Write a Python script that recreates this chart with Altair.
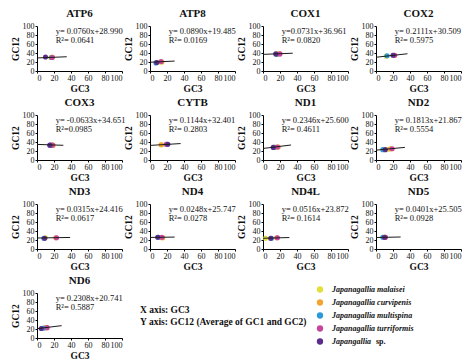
import altair as alt
import pandas as pd

genes = ["ATP6", "ATP8", "COX1", "COX2", "COX3", "CYTB", "ND1", "ND2",
         "ND3", "ND4", "ND4L", "ND5", "ND6"]
slopes = [0.0760, 0.0890, 0.0731, 0.2111, -0.0633, 0.1144, 0.2346, 0.1813,
          0.0315, 0.0248, 0.0516, 0.0401, 0.2308]
intercepts = [28.990, 19.485, 36.961, 30.509, 34.651, 32.401, 25.600, 21.867,
              24.416, 25.747, 23.872, 25.505, 20.741]
eq_labels = ["y= 0.0760x+28.990", "y= 0.0890x+19.485", "y=0.0731x+36.961",
             "y= 0.2111x+30.509", "y= -0.0633x+34.651", "y= 0.1144x+32.401",
             "y= 0.2346x+25.600", "y= 0.1813x+21.867", "y= 0.0315x+24.416",
             "y= 0.0248x+25.747", "y= 0.0516x+23.872", "y= 0.0401x+25.505",
             "y= 0.2308x+20.741"]
r2_labels = ["R²= 0.0641", "R²= 0.0169", "R²= 0.0820", "R²= 0.5975",
             "R²=0.0985", "R²= 0.2803", "R²= 0.4611", "R²= 0.5554",
             "R²= 0.0617", "R²= 0.0278", "R²= 0.1614", "R²= 0.0928",
             "R²= 0.5887"]
line_end = [35, 29, 35, 37, 31, 36, 33, 34, 39, 29, 31, 29, 29]

species = ["Japanagallia malaisei", "Japanagallia curvipenis",
           "Japanagallia multispina", "Japanagallia turriformis",
           "Japangallia sp."]
legend_names = ["Japanagallia malaisei", "Japanagallia curvipenis",
                "Japanagallia multispina", "Japanagallia turriformis",
                "Japangallia"]
colors = ["#e3df3a", "#f2a531", "#2b9ad6", "#c8469a", "#5b2d8a"]

# GC3 / GC12 per gene, species order as above
gc3_values = [
    [16, 18, 17, 18, 10],
    [12, 14, 7, 13, 8],
    [17, 19, 16, 20, 15],
    [12, 21, 13, 22, 20],
    [17, 19, 16, 18, 15],
    [14, 13, 20, 19, 21],
    [15, 18, 13, 17, 12],
    [15, 17, 8, 19, 11],
    [10, 22, 8, 23, 9],
    [14, 15, 10, 14, 9],
    [3, 16, 10, 17, 9],
    [11, 11, 8, 11, 10],
    [10, 11, 8, 12, 5],
]
gc12_values = [
    [30, 31, 30, 30, 31],
    [20, 20, 18, 21, 19],
    [38, 38, 37, 38, 38],
    [33, 35, 34, 35, 35],
    [33, 33, 33, 33, 33],
    [34, 34, 35, 35, 35],
    [29, 29, 28, 29, 28],
    [24, 25, 23, 25, 23],
    [25, 25, 24, 25, 24],
    [25, 25, 26, 26, 26],
    [24, 25, 24, 25, 24],
    [26, 26, 26, 26, 26],
    [23, 23, 22, 23, 21],
]
note_lines = ["X axis: GC3", "Y axis: GC12 (Average of GC1 and GC2)"]

SERIF = "Liberation Serif"
W, H = 85, 45
ticks = [0, 20, 40, 60, 80, 100]

xscale = alt.Scale(domain=[0, 100], nice=False)
yscale = alt.Scale(domain=[0, 100], nice=False)
xaxis = alt.Axis(values=ticks, title="GC3", grid=False, tickSize=2,
                 labelPadding=1, titlePadding=1, labelOverlap=False)
yaxis = alt.Axis(values=ticks, title="GC12", grid=False, tickSize=2,
                 labelPadding=1, titlePadding=2, labelOverlap=False)


def panel(i):
    pts = pd.DataFrame({"species": species, "GC3": gc3_values[i],
                        "GC12": gc12_values[i], "order": list(range(5))})
    p = alt.Chart(pts).mark_circle(size=26, opacity=1).encode(
        x=alt.X("GC3:Q", scale=xscale, axis=xaxis, title="GC3"),
        y=alt.Y("GC12:Q", scale=yscale, axis=yaxis, title="GC12"),
        color=alt.Color("species:N", scale=alt.Scale(domain=species, range=colors),
                        legend=None),
        order="order:Q",
    )
    ln = alt.Chart(pd.DataFrame({"GC3": [0, line_end[i]]})).transform_calculate(
        GC12=f"datum.GC3*({slopes[i]})+({intercepts[i]})"
    ).mark_line(color="#1a1a1a", strokeWidth=1).encode(
        x=alt.X("GC3:Q", scale=xscale, axis=xaxis, title="GC3"),
        y=alt.Y("GC12:Q", scale=yscale, axis=yaxis, title="GC12"),
    )
    txt = alt.Chart(pd.DataFrame({"t": [eq_labels[i], r2_labels[i]],
                                  "yy": [90, 70]})).mark_text(
        align="left", baseline="middle", font=SERIF, fontSize=8.5, color="#111"
    ).encode(
        x=alt.XDatum(22, scale=xscale, axis=xaxis, title="GC3"),
        y=alt.Y("yy:Q", scale=yscale, axis=yaxis, title="GC12"),
        text="t:N",
    )
    return alt.layer(p, ln, txt).properties(
        width=W, height=H,
        title=alt.TitleParams(genes[i], font=SERIF, fontSize=11, fontWeight="bold",
                              offset=3),
    )


rows = []
for r in range(3):
    rows.append(alt.hconcat(*[panel(r * 4 + c) for c in range(4)],
                            spacing=28, bounds="flush"))

notes = alt.Chart(pd.DataFrame({"t": note_lines, "k": [0, 1]})).mark_text(
    align="left", baseline="middle", font=SERIF, fontSize=9.5, fontWeight="bold",
    color="#111"
).encode(
    x=alt.value(0),
    y=alt.Y("k:O", axis=None, scale=alt.Scale(padding=0.5)),
    text="t:N",
).properties(width=150, height=24)

leg_df = pd.DataFrame({"species": species, "name": legend_names})
dots = alt.Chart(leg_df).mark_circle(size=40, opacity=1).encode(
    x=alt.value(12),
    y=alt.Y("species:N", axis=None, sort=species),
    color=alt.Color("species:N", scale=alt.Scale(domain=species, range=colors),
                    legend=None),
)
names = alt.Chart(leg_df).mark_text(
    align="left", baseline="middle", font=SERIF, fontSize=8, fontWeight="bold",
    fontStyle="italic", color="#111"
).encode(
    x=alt.value(24),
    y=alt.Y("species:N", axis=None, sort=species),
    text="name:N",
)
sp_txt = alt.Chart(leg_df.tail(1)).mark_text(
    align="left", baseline="middle", font=SERIF, fontSize=8, fontWeight="bold",
    color="#111"
).encode(
    x=alt.value(68),
    y=alt.Y("species:N", axis=None, sort=species),
    text=alt.value("sp."),
)
legend = alt.layer(dots, names, sp_txt).properties(width=130, height=65)

rows.append(alt.hconcat(panel(12), notes, legend, spacing=18, bounds="flush",
                        center=True))

chart = alt.vconcat(*rows, spacing=4).properties(
    padding={"left": 2, "top": 0, "right": 0, "bottom": 0}
).configure_view(stroke=None).configure_axis(
    domainColor="#000", tickColor="#000", labelFont=SERIF, labelFontSize=8,
    labelColor="#111", titleFont=SERIF, titleFontSize=9.5, titleFontWeight="bold",
    titleColor="#111", domainWidth=1,
).configure_title(color="#111")

chart.save("out.html", embed_options={"renderer": "svg", "actions": False})
